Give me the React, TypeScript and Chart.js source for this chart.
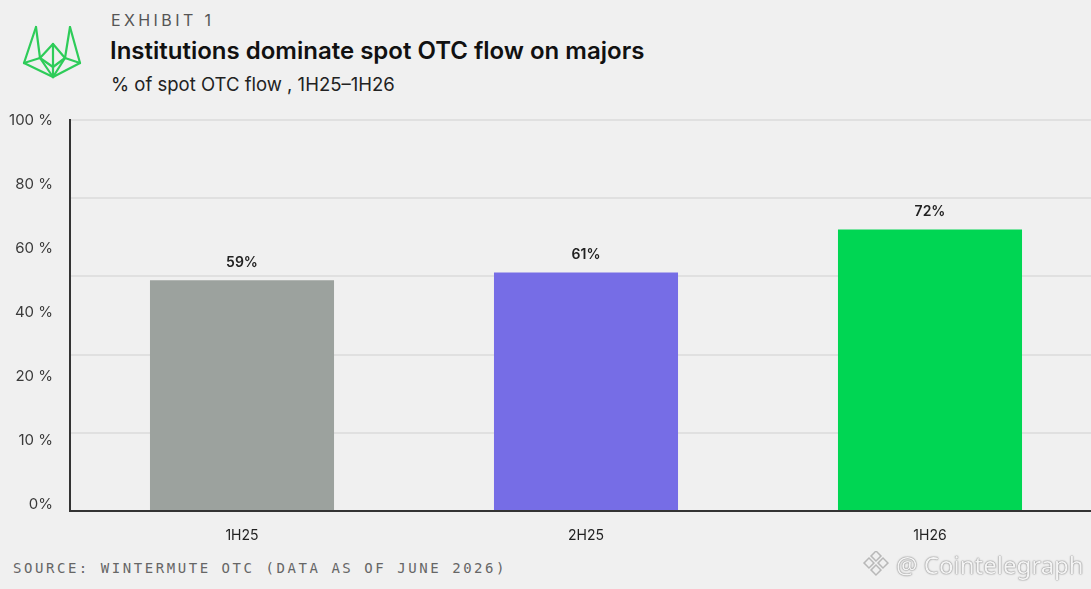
import React, { useEffect, useRef } from "react";
import { Chart, registerables } from "chart.js";

Chart.register(...registerables);

const categories = ["1H25", "2H25", "1H26"];
const values = [59, 61, 72];
const valueLabels = ["59%", "61%", "72%"];
const barColors = ["#9ca29e", "#766de6", "#00d653"];
const tickLabels = ["0%", "10 %", "20 %", "40 %", "60 %", "80 %", "100 %"];
const tickPositions = [0, 1, 2, 3, 4, 5, 6];

const FONT = "Inter, 'Noto Sans', sans-serif";

const barLabelPlugin = {
  id: "barLabels",
  afterDatasetsDraw(chart: any) {
    const ctx = chart.ctx;
    const meta = chart.getDatasetMeta(0);
    ctx.save();
    ctx.font = `600 14px ${FONT}`;
    ctx.fillStyle = "#222";
    ctx.textAlign = "center";
    ctx.textBaseline = "middle";
    meta.data.forEach((el: any, i: number) => {
      ctx.fillText(valueLabels[i], el.x, el.y - 18);
    });
    ctx.restore();
  },
};

function BarChart() {
  const ref = useRef<HTMLCanvasElement | null>(null);
  useEffect(() => {
    if (!ref.current) return;
    const chart = new Chart(ref.current, {
      type: "bar",
      data: {
        labels: categories,
        datasets: [
          {
            data: values,
            backgroundColor: barColors,
            borderWidth: 0,
            barPercentage: 0.535,
            categoryPercentage: 1,
            yAxisID: "y",
          },
        ],
      },
      options: {
        animation: false,
        responsive: true,
        maintainAspectRatio: false,
        layout: { padding: { top: 14, right: 0, bottom: 0, left: 0 } },
        plugins: {
          legend: { display: false },
          tooltip: { enabled: false },
        },
        scales: {
          x: {
            type: "category",
            grid: { display: false, drawTicks: false },
            border: { display: true, color: "#333", width: 2 },
            ticks: {
              color: "#222",
              font: { family: FONT, size: 14 },
              padding: 16,
            },
            afterFit: (scale: any) => {
              scale.height = 39;
            },
          },
          y: {
            type: "linear",
            position: "left",
            weight: 0,
            min: 0,
            max: 100,
            ticks: { display: false, stepSize: 20 },
            grid: { color: "#e0e0e0", lineWidth: 2, drawTicks: false },
            border: { display: true, color: "#333", width: 2 },
            afterFit: (scale: any) => {
              scale.width = 0;
            },
          },
          y2: {
            type: "linear",
            position: "left",
            weight: 1,
            min: -0.109,
            max: 6,
            grid: { display: false, drawTicks: false },
            border: { display: false },
            ticks: {
              color: "#3a3a3a",
              font: { family: FONT, size: 15 },
              padding: 17,
              callback: (v: any) => {
                const idx = tickPositions.indexOf(Number(v));
                return idx >= 0 ? tickLabels[idx] : "";
              },
            },
            afterBuildTicks: (scale: any) => {
              scale.ticks = tickPositions.map((v) => ({ value: v }));
            },
            afterFit: (scale: any) => {
              scale.width = 70;
            },
          },
        },
      },
      plugins: [barLabelPlugin],
    } as any);
    return () => chart.destroy();
  }, []);
  return <canvas ref={ref} />;
}

function Logo() {
  const A = [24, 63], B = [36, 27], C = [40, 58], D = [53, 44], E = [65, 58];
  const F = [70, 27], G = [80, 63], H = [53, 77], M = [53, 67];
  const segs = [
    [A, B], [B, C], [A, C], [C, D], [D, E], [E, F], [F, G], [E, G],
    [A, H], [H, G], [C, M], [M, E], [D, M], [M, H], [C, H], [E, H],
  ];
  return (
    <svg
      width={100}
      height={90}
      style={{ position: "absolute", left: 0, top: 0 }}
      viewBox="0 0 100 90"
    >
      {segs.map((s, i) => (
        <line
          key={i}
          x1={s[0][0]}
          y1={s[0][1]}
          x2={s[1][0]}
          y2={s[1][1]}
          stroke="#2ecc59"
          strokeWidth={2.2}
          strokeLinecap="round"
        />
      ))}
    </svg>
  );
}

export default function App() {
  return (
    <div
      style={{
        position: "absolute",
        left: 0,
        top: 0,
        width: 1091,
        height: 589,
        overflow: "hidden",
        background: "#f0f0f0",
        fontFamily: FONT,
      }}
    >
      <Logo />
      <div
        style={{
          position: "absolute",
          left: 111,
          top: 12,
          fontSize: 16,
          lineHeight: 1,
          letterSpacing: 3.4,
          color: "#555",
        }}
      >
        EXHIBIT 1
      </div>
      <div
        style={{
          position: "absolute",
          left: 110,
          top: 39,
          fontSize: 24,
          lineHeight: 1,
          fontWeight: 600,
          color: "#111",
          letterSpacing: 0,
          whiteSpace: "nowrap",
        }}
      >
        Institutions dominate spot OTC flow on majors
      </div>
      <div
        style={{
          position: "absolute",
          left: 111,
          top: 75,
          fontSize: 18.5,
          lineHeight: 1,
          color: "#222",
          whiteSpace: "nowrap",
        }}
      >
        % of spot OTC flow , 1H25–1H26
      </div>
      <div
        style={{
          position: "absolute",
          left: 0,
          top: 94,
          width: 1102,
          height: 456,
        }}
      >
        <BarChart />
      </div>
      <div
        style={{
          position: "absolute",
          left: 13,
          top: 561,
          fontSize: 14,
          lineHeight: 1,
          letterSpacing: 2.55,
          color: "#666",
          fontFamily: "'DejaVu Sans Mono', monospace",
          whiteSpace: "nowrap",
        }}
      >
        SOURCE: WINTERMUTE OTC (DATA AS OF JUNE 2026)
      </div>
      <div
        style={{
          position: "absolute",
          left: 862,
          top: 551,
          display: "flex",
          alignItems: "center",
          gap: 6,
          whiteSpace: "nowrap",
        }}
      >
        <svg width={28} height={28} viewBox="0 0 28 28">
          {[
            [14, 5],
            [7, 12],
            [21, 12],
            [14, 19],
          ].map((p, i) => (
            <rect
              key={i}
              x={p[0] - 3.5}
              y={p[1] - 3.5}
              width={7}
              height={7}
              transform={`rotate(45 ${p[0]} ${p[1]})`}
              fill="none"
              stroke="#b8b8b8"
              strokeWidth={1.5}
            />
          ))}
        </svg>
        <span
          style={{
            fontSize: 24,
            lineHeight: 1,
            color: "#f4f4f4",
            textShadow: "0 0 1px #666, 0 0 2px #999",
            fontFamily: "'Noto Sans', sans-serif",
          }}
        >
          @ Cointelegraph
        </span>
      </div>
    </div>
  );
}
